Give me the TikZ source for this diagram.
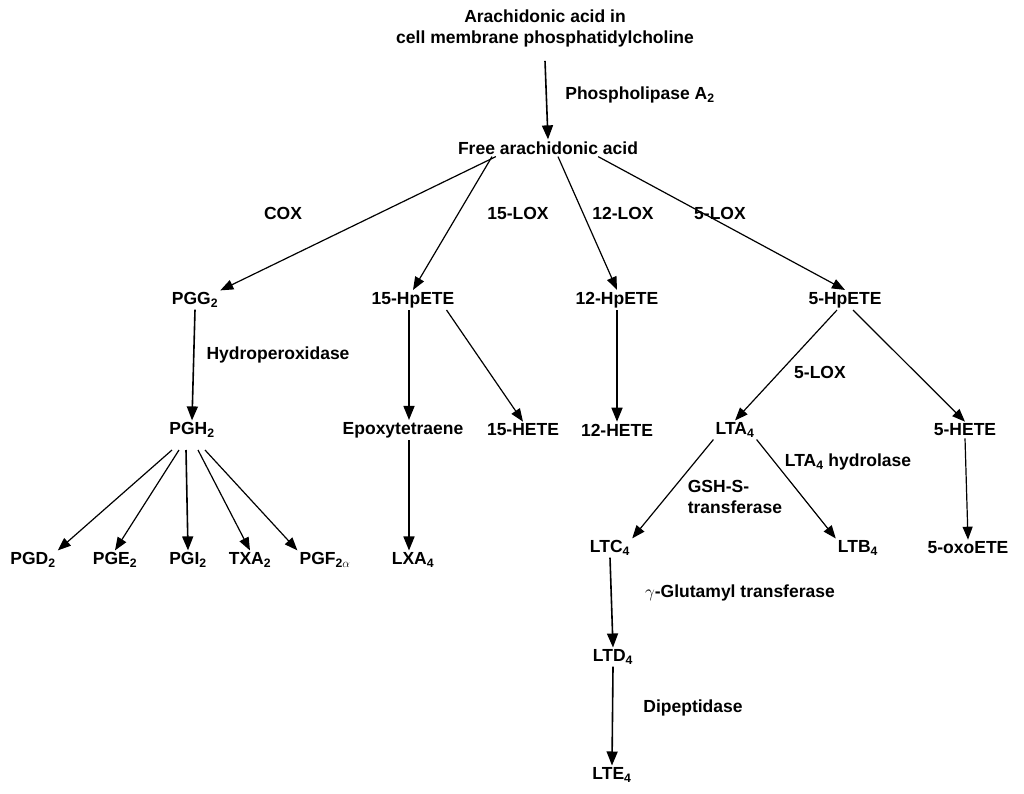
\documentclass[tikz,border=0pt]{standalone}
\usepackage{fontspec}
\setmainfont{Liberation Sans}
\usetikzlibrary{arrows.meta}
\newcommand{\sbs}[1]{\textsubscript{#1}}
\begin{document}
\begin{tikzpicture}[x=1pt,y=-1pt,
  t/.style={font=\fontsize{17.5}{21}\selectfont\bfseries, inner sep=2pt},
  a/.style={line width=1.6pt,-{Triangle[length=14pt,width=11pt]}},
  b/.style={line width=1.2pt,-{Triangle[length=13pt,width=10pt]}}]
\useasboundingbox (0,0) rectangle (1024,794);
\node[t,align=center] (aa) at (545,28) {Arachidonic acid in\\cell membrane phosphatidylcholine};
\node[t] (free) at (548,148) {Free arachidonic acid};
\node[t] (pgg) at (195,300) {PGG\sbs{2}};
\node[t] (h15) at (413,300) {15-HpETE};
\node[t] (h12) at (617,300) {12-HpETE};
\node[t] (h5) at (845,300) {5-HpETE};
\node[t] (pgh) at (192,430) {PGH\sbs{2}};
\node[t] (epo) at (403,430) {Epoxytetraene};
\node[t] (e15) at (523,430) {15-HETE};
\node[t] (e12) at (617,430) {12-HETE};
\node[t] (lta) at (735,430) {LTA\sbs{4}};
\node[t] (e5) at (965,430) {5-HETE};
\node[t] (pgd) at (33,560) {PGD\sbs{2}};
\node[t] (pge) at (115,560) {PGE\sbs{2}};
\node[t] (pgi) at (188,560) {PGI\sbs{2}};
\node[t] (txa) at (250,560) {TXA\sbs{2}};
\node[t] (pgf) at (325,560) {PGF\sbs{2$\alpha$}};
\node[t] (lxa) at (413,560) {LXA\sbs{4}};
\node[t] (ltc) at (610,548) {LTC\sbs{4}};
\node[t] (ltb) at (858,548) {LTB\sbs{4}};
\node[t] (oxo) at (968,548) {5-oxoETE};
\node[t] (ltd) at (613,657) {LTD\sbs{4}};
\node[t] (lte) at (612,775) {LTE\sbs{4}};
% labels
\node[t] (l1) at (640,95) {Phospholipase A\sbs{2}};
\node[t] (l2) at (283,213) {COX};
\node[t] (l3) at (518,213) {15-LOX};
\node[t] (l4) at (623,213) {12-LOX};
\node[t] (l5) at (720,213) {5-LOX};
\node[t] (l6) at (278,355) {Hydroperoxidase};
\node[t] (l7) at (820,372) {5-LOX};
\node[t] (l8) at (848,462) {LTA\sbs{4} hydrolase};
\node[t,align=left] (l9) at (735,497) {GSH-S-\\transferase};
\node[t] (l10) at (740,593) {$\gamma$-Glutamyl transferase};
\node[t] (l11) at (693,708) {Dipeptidase};
% edges
\draw[a] (aa.south) ++(0,12) coordinate (s0) -- (free.north);
\draw[b] (free.south west) ++(40,0) coordinate (s1) -- (pgg.north east);
\draw[b] (free.south) ++(-56,0) coordinate (s2) -- (h15.north);
\draw[b] (free.south) ++(10,0) coordinate (s3) -- (h12.north);
\draw[b] (free.south east) ++(-42,0) coordinate (s4) -- (h5.north);
\draw[a] (pgg.south) -- (pgh.north);
\coordinate (ex) at (409,0);
\draw[a] (h15.south -| ex) -- (epo.north -| ex);
\draw[b] (h15.south east) ++(-10,0) coordinate (s7) -- (e15.north);
\draw[a] (h12.south) -- (e12.north);
\draw[b] (h5.south) ++(-8,0) coordinate (s5) -- (lta.north);
\draw[b] (h5.south) ++(8,0) coordinate (s6) -- (e5.north);
\coordinate (p1) at (172,450); \coordinate (p2) at (179,450);
\coordinate (p3) at (186,450); \coordinate (p4) at (198,450);
\coordinate (p5) at (205,450);
\draw[b] (p1) -- (pgd.north east);
\draw[b] (p2) -- (pge.north);
\draw[a] (p3) -- (pgi.north);
\draw[b] (p4) -- (txa.north);
\draw[b] (p5) -- (pgf.north west);
\draw[a] (epo.south -| ex) -- (lxa.north -| ex);
\draw[b] (lta.south west) -- (ltc.north east);
\draw[b] (lta.south east) -- (ltb.north west);
\draw[b] (e5.south) -- (oxo.north);
\draw[a] (ltc.south) -- (ltd.north);
\draw[a] (ltd.south) -- (lte.north);
\end{tikzpicture}
\end{document}
